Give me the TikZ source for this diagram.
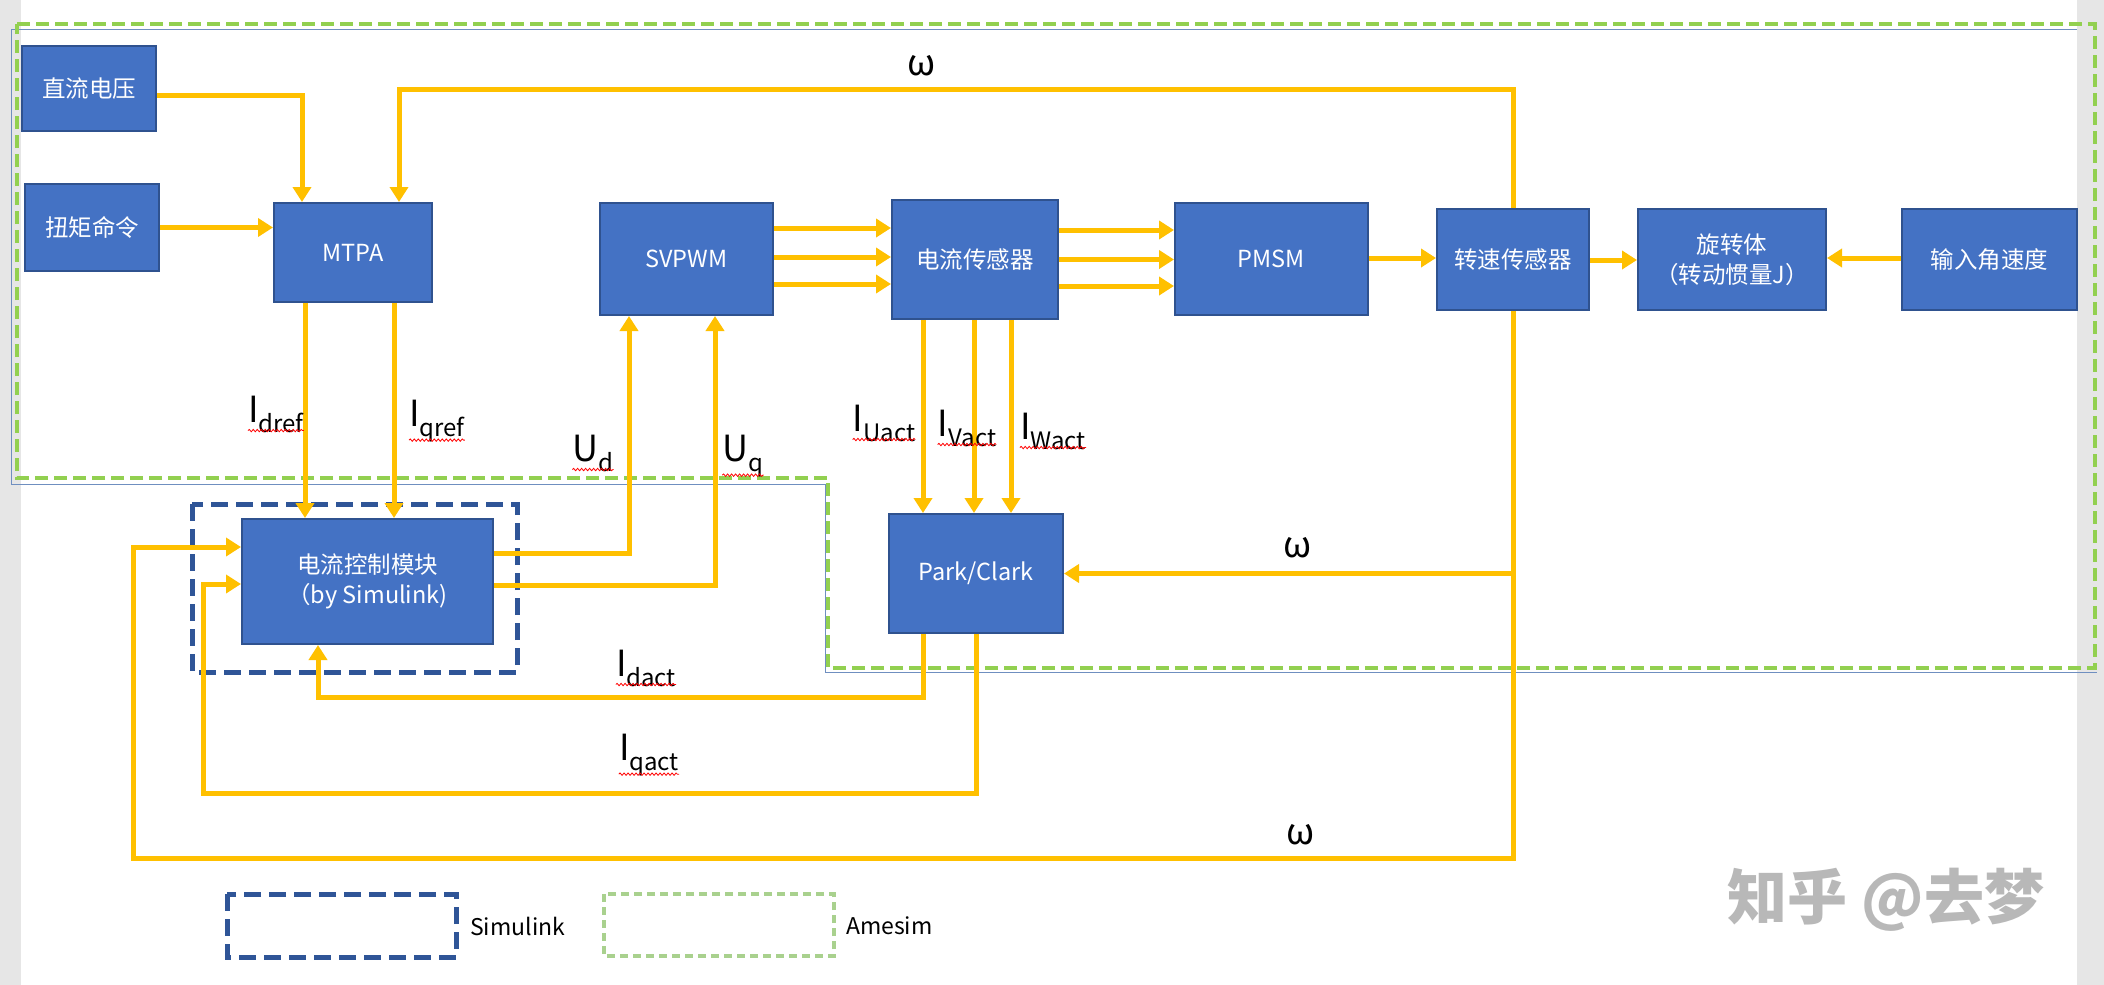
\documentclass[tikz,border=0pt]{standalone}
\usepackage{fontspec}
\setmainfont{Noto Sans CJK SC}
\usetikzlibrary{arrows.meta,calc,decorations.pathmorphing}
\definecolor{boxblue}{HTML}{4472C4}
\definecolor{boxedge}{HTML}{2F528F}
\definecolor{gold}{HTML}{FFC000}
\definecolor{simblue}{HTML}{2F5597}
\definecolor{amegreen}{HTML}{92D050}
\definecolor{legendgreen}{HTML}{A9D18E}
\definecolor{pagegrey}{HTML}{E6E6E6}
\definecolor{thinline}{HTML}{6F8FC0}
\newcommand{\Isub}[2]{#1\raisebox{-10pt}{\fontsize{24}{26}\selectfont #2}}
\tikzset{
 blk/.style={draw=boxedge,line width=2pt,fill=boxblue,text=white,inner sep=0pt,align=center,font=\fontsize{23.5}{30}\selectfont},
 arr/.style={draw=gold,line width=5pt,-{Triangle[length=15pt,width=18pt]}},
 lbl/.style={font=\fontsize{36}{40}\selectfont,inner sep=1pt},
 omg/.style={font=\fontsize{36}{38}\selectfont,inner sep=0pt},
 simbox/.style={draw=simblue,line width=5pt,dash pattern=on 17pt off 8pt},
 amebox/.style={draw=amegreen,line width=4pt,dash pattern=on 13pt off 6pt},
 amelegend/.style={draw=legendgreen,line width=4pt,dash pattern=on 8pt off 5pt},
 squig/.style={draw=red,line width=0.8pt,decorate,decoration={snake,amplitude=1.2pt,segment length=4pt}},
 leg/.style={font=\fontsize{23}{26}\selectfont,inner sep=0pt},
}
\begin{document}
\begin{tikzpicture}[x=1pt,y=-1pt]
\useasboundingbox (0,0) rectangle (2104,985);
% page background
\fill[white] (0,0) rectangle (2104,985);
\fill[pagegrey] (0,0) rectangle (21,985);
\fill[pagegrey] (2077,0) rectangle (2104,985);
% thin outline of the text frame
\draw[thinline,line width=1pt] (2077,29) -- (11,29) -- (11,484) -- (825,484) -- (825,672) -- (2097,672);
% Amesim region
\draw[amebox] (17,24) -- (2095,24) -- (2095,668) -- (828,668) -- (828,478) -- (17,478) -- cycle;
% Simulink region
\draw[simbox] (192,504) rectangle (517,672);

% blocks
\node[blk,minimum width=134pt,minimum height=85pt] (dc) at (89,88.5) {直流电压};
\node[blk,minimum width=134pt,minimum height=87pt] (tq) at (92,227.5) {扭矩命令};
\node[blk,minimum width=158pt,minimum height=99pt] (mtpa) at (353,252.5) {MTPA};
\node[blk,minimum width=173pt,minimum height=112pt] (svpwm) at (686.5,259) {SVPWM};
\node[blk,minimum width=166pt,minimum height=119pt] (cs) at (975,259.5) {电流传感器};
\node[blk,minimum width=193pt,minimum height=112pt] (pmsm) at (1271.5,259) {PMSM};
\node[blk,minimum width=152pt,minimum height=101pt] (ss) at (1513,259.5) {转速传感器};
\node[blk,minimum width=188pt,minimum height=101pt] (rot) at (1732,259.5) {旋转体\\（转动惯量J）};
\node[blk,minimum width=175pt,minimum height=101pt] (inp) at (1989.5,259.5) {输入角速度};
\node[blk,minimum width=251pt,minimum height=125pt] (ctrl) at (367.5,581.5) {电流控制模块\\（by Simulink)};
\node[blk,minimum width=174pt,minimum height=119pt] (park) at (976,573.5) {Park/Clark};

% connectors
\draw[arr] ($(dc.east)+(0,6.5)$) -| ($(mtpa.north west)+(29,0)$);
\draw[arr] (tq.east) -- (tq.east -| mtpa.west);
\draw[arr] (ss.north) -- ++(0,-118.5) -| ($(mtpa.north west)+(126,0)$);
\draw[arr] ($(mtpa.south west)+(32,0)$) -- ($(ctrl.north west)+(64,0)$);
\draw[arr] ($(mtpa.south west)+(121,0)$) -- ($(ctrl.north west)+(153,0)$);
\draw[arr] ($(ctrl.east)+(0,-28.5)$) -| ($(svpwm.south west)+(30,0)$);
\draw[arr] ($(ctrl.east)+(0,3.5)$) -| ($(svpwm.south west)+(116,0)$);
\foreach \d in {-31,-2,25}{
  \draw[arr] ($(svpwm.east)+(0,\d)$) coordinate (sa) -- (sa -| cs.west);
}
\foreach \d in {-29.5,0,26.5}{
  \draw[arr] ($(cs.east)+(0,\d)$) coordinate (ca) -- (ca -| pmsm.west);
}
\draw[arr] ($(pmsm.east)+(0,-1)$) coordinate (pa) -- (pa -| ss.west);
\draw[arr] ($(ss.east)+(0,0.5)$) coordinate (ra) -- (ra -| rot.west);
\draw[arr] ($(inp.west)+(0,-1.5)$) coordinate (ia) -- (ia -| rot.east);
\foreach \d/\e in {32/35,83/86,120/123}{
  \draw[arr] ($(cs.south west)+(\d,0)$) -- ($(park.north west)+(\e,0)$);
}
\coordinate (wleft) at (133,858);
\draw[arr] (ss.south) -- (ss.south |- wleft) -- (wleft) |- ($(ctrl.west)+(0,-34.5)$);
\draw[arr] (ss.south |- park.east) -- (park.east);
\draw[arr] ($(park.south west)+(35,0)$) -- ++(0,63) -| ($(ctrl.south west)+(77,0)$);
\coordinate (iqc) at (203,793);
\draw[arr] (park.south) |- (iqc) |- ($(ctrl.west)+(0,2.5)$);

% labels
\node[lbl] (l1) at (276,414) {\Isub{I}{dref}};
\node[lbl] (l2) at (437,421) {\Isub{I}{qref}};
\node[lbl] (l3) at (593,453) {\Isub{U}{d}};
\node[lbl] (l4) at (743,456) {\Isub{U}{q}};
\node[lbl] (l5) at (884,423) {\Isub{I}{Uact}};
\node[lbl] (l6) at (967,428) {\Isub{I}{Vact}};
\node[lbl] (l7) at (1053,431) {\Isub{I}{Wact}};
\node[lbl] (l8) at (646,668) {\Isub{I}{dact}};
\node[lbl] (l9) at (649,755) {\Isub{I}{qact}};
\foreach \n in {l1,l2,l3,l4,l5,l6,l7,l8,l9}{
  \draw[squig] ($(\n.south west)+(1,-3)$) -- ($(\n.south east)+(-1,-3)$);
}
\node[omg] (w1) at (922,66) {ω};
\node[omg] (w2) at (1298,548) {ω};
\node[omg] (w3) at (1301,835) {ω};

% legend
\draw[simbox] (227,894) rectangle (456,957);
\node[leg,anchor=west] (ls) at (470,926) {Simulink};
\draw[amelegend] (604,894) rectangle (834,956);
\node[leg,anchor=west] (la) at (846,926) {Amesim};

% watermark
\node[font=\fontsize{60}{64}\selectfont\bfseries,text=black!28,inner sep=0pt] (wm) at (1886,900) {知乎 @去梦};
\end{tikzpicture}
\end{document}
